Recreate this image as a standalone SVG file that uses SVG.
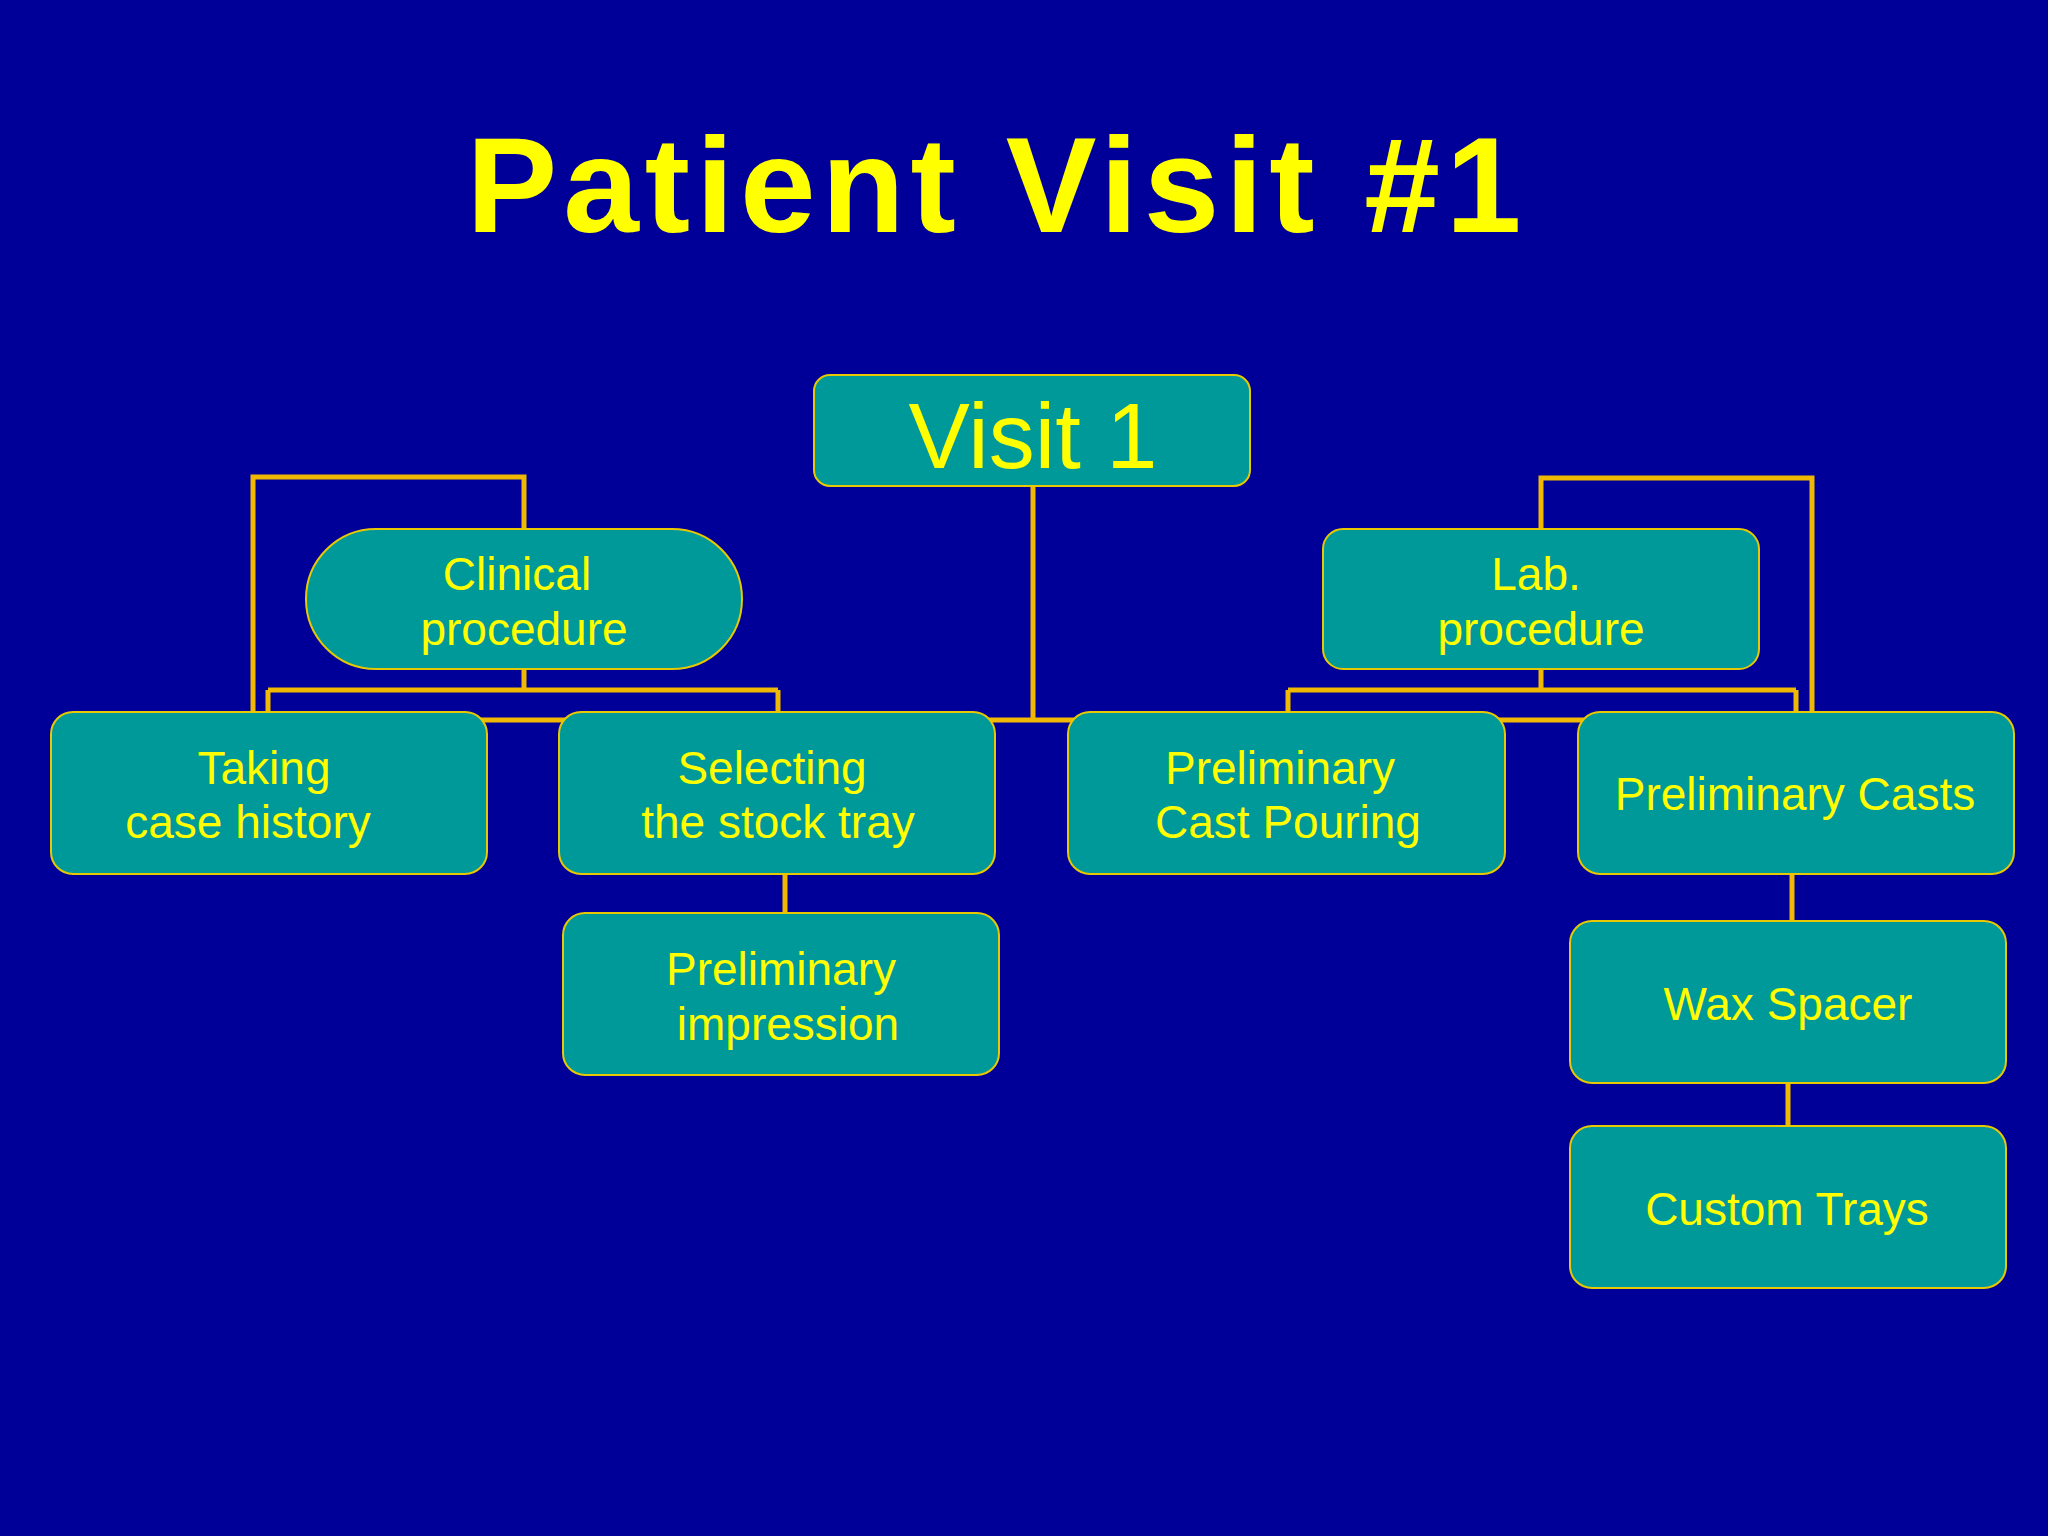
<svg xmlns="http://www.w3.org/2000/svg" width="2048" height="1536" viewBox="0 0 2048 1536">
<style>
.n{fill:#009999;stroke:#E8C800;stroke-width:2}
.t{fill:#FFFF00;font-family:"Liberation Sans","DejaVu Sans",sans-serif;font-size:46px;text-anchor:middle}
.c{fill:none;stroke:#F0B800;stroke-width:5}
</style>
<rect width="2048" height="1536" fill="#000099"/>
<text x="997" y="232" style="fill:#FFFF00;font-family:'Liberation Sans','DejaVu Sans',sans-serif;font-weight:bold;font-size:136px;letter-spacing:6px;text-anchor:middle">Patient Visit #1</text>
<g id="connectors">
<path class="c" d="M1033 486V720M268 720H1796"/>
<path class="c" d="M524 669V690M268 690H778M268 690V712M778 690V712"/>
<path class="c" d="M253 712V477H524V529"/>
<path class="c" d="M1541 669V690M1288 690H1796M1288 690V712M1796 690V712"/>
<path class="c" d="M1541 529V478H1812V712"/>
<path class="c" d="M785 874V913M1792 874V921M1788 1083V1126"/>
</g>
<g id="visit1"><rect class="n" x="814" y="375" width="436" height="111" rx="16"/><text class="t" x="1033" y="468" style="font-size:92px">Visit 1</text></g>
<g id="clinical"><rect class="n" x="306" y="529" width="436" height="140" rx="70"/><text class="t" x="517" y="590">Clinical</text><text class="t" x="524" y="645">procedure</text></g>
<g id="lab"><rect class="n" x="1323" y="529" width="436" height="140" rx="20"/><text class="t" x="1536" y="590">Lab.</text><text class="t" x="1541" y="645">procedure</text></g>
<g id="taking"><rect class="n" x="51" y="712" width="436" height="162" rx="22"/><text class="t" x="264" y="784">Taking</text><text class="t" x="248" y="838">case history</text></g>
<g id="selecting"><rect class="n" x="559" y="712" width="436" height="162" rx="22"/><text class="t" x="772" y="784">Selecting</text><text class="t" x="778" y="838">the stock tray</text></g>
<g id="pouring"><rect class="n" x="1068" y="712" width="437" height="162" rx="22"/><text class="t" x="1280" y="784">Preliminary</text><text class="t" x="1288" y="838">Cast Pouring</text></g>
<g id="casts"><rect class="n" x="1578" y="712" width="436" height="162" rx="22"/><text class="t" x="1795" y="810">Preliminary Casts</text></g>
<g id="impression"><rect class="n" x="563" y="913" width="436" height="162" rx="22"/><text class="t" x="781" y="985">Preliminary</text><text class="t" x="788" y="1040">impression</text></g>
<g id="wax"><rect class="n" x="1570" y="921" width="436" height="162" rx="22"/><text class="t" x="1788" y="1020">Wax Spacer</text></g>
<g id="custom"><rect class="n" x="1570" y="1126" width="436" height="162" rx="22"/><text class="t" x="1787" y="1225">Custom Trays</text></g>
</svg>
